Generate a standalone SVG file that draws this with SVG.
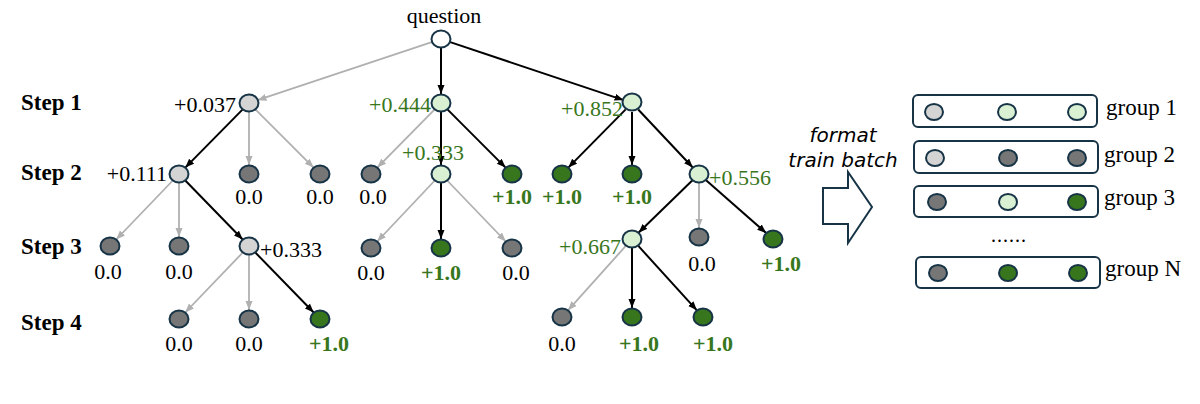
<svg xmlns="http://www.w3.org/2000/svg" width="1200" height="404" viewBox="0 0 1200 404">
<defs>
<marker id="ab" markerUnits="userSpaceOnUse" markerWidth="10" markerHeight="8" refX="9" refY="3.5" orient="auto"><path d="M0,0 L9,3.5 L0,7 z" fill="#000"/></marker>
<marker id="ag" markerUnits="userSpaceOnUse" markerWidth="10" markerHeight="8" refX="9" refY="3.5" orient="auto"><path d="M0,0 L9,3.5 L0,7 z" fill="#b0b0b0"/></marker>
</defs>
<style>
.n{stroke:#173447;stroke-width:2}
.w{fill:#ffffff}.lg{fill:#d4d4d4}.lgr{fill:#d9f0d3}.dg{fill:#767676}.gr{fill:#38761d}
.eb{stroke:#000;stroke-width:2;fill:none;marker-end:url(#ab)}
.eg{stroke:#b0b0b0;stroke-width:1.8;fill:none;marker-end:url(#ag)}
text{font-family:"Liberation Serif","Times New Roman",serif;fill:#000}
.st{font-size:23px;font-weight:bold}
.v{font-size:22px}
.vg{font-size:22px;fill:#38761d}
.p{font-size:22px;font-weight:bold;fill:#38761d}
.gl{font-size:23px}
.fm{font-family:"DejaVu Sans",sans-serif;font-style:italic;font-size:20px}
.box{fill:#fff;stroke:#173447;stroke-width:2}
</style>
<rect width="1200" height="404" fill="#fff"/>
<g id="connectors">
<line class="eg" x1="432.5" y1="41.8" x2="257.5" y2="100.2"/>
<line class="eb" x1="441" y1="48" x2="441" y2="94"/>
<line class="eb" x1="449.5" y1="41.9" x2="623.5" y2="100.1"/>
<line class="eb" x1="242.7" y1="109.4" x2="185.3" y2="167.6"/>
<line class="eg" x1="249" y1="112" x2="249" y2="165"/>
<line class="eg" x1="255.4" y1="109.4" x2="313.6" y2="167.6"/>
<line class="eg" x1="434.7" y1="109.4" x2="377.3" y2="167.6"/>
<line class="eb" x1="441" y1="112" x2="441" y2="165"/>
<line class="eb" x1="447.4" y1="109.4" x2="505.6" y2="167.6"/>
<line class="eb" x1="625.7" y1="109.4" x2="568.3" y2="167.6"/>
<line class="eb" x1="632" y1="112" x2="632" y2="165"/>
<line class="eb" x1="638.2" y1="109.5" x2="692.8" y2="167.5"/>
<line class="eg" x1="172.8" y1="180.5" x2="116.2" y2="239.5"/>
<line class="eg" x1="179" y1="183" x2="179" y2="237"/>
<line class="eb" x1="185.3" y1="180.5" x2="242.7" y2="239.5"/>
<line class="eg" x1="434.8" y1="180.5" x2="377.2" y2="241.5"/>
<line class="eb" x1="441" y1="183" x2="441" y2="239"/>
<line class="eg" x1="447.2" y1="180.5" x2="505.8" y2="241.5"/>
<line class="eb" x1="692.5" y1="180.3" x2="638.5" y2="232.7"/>
<line class="eg" x1="699" y1="183" x2="699" y2="228"/>
<line class="eb" x1="705.8" y1="179.9" x2="766.2" y2="233.1"/>
<line class="eg" x1="242.8" y1="252.5" x2="185.2" y2="312.5"/>
<line class="eg" x1="249" y1="255" x2="249" y2="310"/>
<line class="eb" x1="255.3" y1="252.5" x2="313.7" y2="312.5"/>
<line class="eg" x1="626" y1="245.7" x2="568" y2="310.3"/>
<line class="eb" x1="632" y1="248" x2="632" y2="308"/>
<line class="eb" x1="638.1" y1="245.7" x2="696.9" y2="310.3"/>
</g>
<g id="labels">
<text class="st" x="21" y="110">Step 1</text>
<text class="st" x="21" y="180">Step 2</text>
<text class="st" x="21" y="254">Step 3</text>
<text class="st" x="21" y="330">Step 4</text>
</g>
<g id="q"><ellipse class="n w" cx="441" cy="39" rx="9.5" ry="8.5"/><text x="444" y="23" text-anchor="middle" font-size="22">question</text></g>
<g id="s1a"><ellipse class="n lg" cx="249" cy="103" rx="9.5" ry="8.5"/><text class="v" x="236" y="112" text-anchor="end">+0.037</text></g>
<g id="s1b"><ellipse class="n lgr" cx="441" cy="103" rx="9.5" ry="8.5"/><text class="vg" x="431" y="112" text-anchor="end">+0.444</text></g>
<g id="s1c"><ellipse class="n lgr" cx="632" cy="102" rx="9.5" ry="8.5"/><text class="vg" x="623" y="116" text-anchor="end">+0.852</text></g>
<g id="s2a"><ellipse class="n lg" cx="179" cy="174" rx="9.5" ry="8.5"/><text class="v" x="167" y="181" text-anchor="end">+0.111</text></g>
<g id="s2b"><ellipse class="n dg" cx="249" cy="174" rx="9.5" ry="8.5"/><text class="v" x="249" y="204" text-anchor="middle">0.0</text></g>
<g id="s2c"><ellipse class="n dg" cx="320" cy="174" rx="9.5" ry="8.5"/><text class="v" x="320" y="204" text-anchor="middle">0.0</text></g>
<g id="s2d"><ellipse class="n dg" cx="371" cy="174" rx="9.5" ry="8.5"/><text class="v" x="373" y="204" text-anchor="middle">0.0</text></g>
<g id="s2e"><ellipse class="n lgr" cx="441" cy="174" rx="9.5" ry="8.5"/><text class="vg" x="402" y="160">+0.333</text></g>
<g id="s2f"><ellipse class="n gr" cx="512" cy="174" rx="9.5" ry="8.5"/><text class="p" x="512" y="204" text-anchor="middle">+1.0</text></g>
<g id="s2g"><ellipse class="n gr" cx="562" cy="174" rx="9.5" ry="8.5"/><text class="p" x="562" y="204" text-anchor="middle">+1.0</text></g>
<g id="s2h"><ellipse class="n gr" cx="632" cy="174" rx="9.5" ry="8.5"/><text class="p" x="632" y="204" text-anchor="middle">+1.0</text></g>
<g id="s2i"><ellipse class="n lgr" cx="699" cy="174" rx="9.5" ry="8.5"/><text class="vg" x="709" y="185">+0.556</text></g>
<g id="s3a"><ellipse class="n dg" cx="110" cy="246" rx="9.5" ry="8.5"/><text class="v" x="108" y="279" text-anchor="middle">0.0</text></g>
<g id="s3b"><ellipse class="n dg" cx="179" cy="246" rx="9.5" ry="8.5" stroke="#111"/><text class="v" x="179" y="279" text-anchor="middle">0.0</text></g>
<g id="s3c"><ellipse class="n lg" cx="249" cy="246" rx="9.5" ry="8.5"/><text class="v" x="260" y="257">+0.333</text></g>
<g id="s3d"><ellipse class="n dg" cx="371" cy="248" rx="9.5" ry="8.5"/><text class="v" x="371" y="280" text-anchor="middle">0.0</text></g>
<g id="s3e"><ellipse class="n gr" cx="441" cy="248" rx="9.5" ry="8.5"/><text class="p" x="441" y="280" text-anchor="middle">+1.0</text></g>
<g id="s3f"><ellipse class="n dg" cx="512" cy="248" rx="9.5" ry="8.5"/><text class="v" x="516" y="280" text-anchor="middle">0.0</text></g>
<g id="s3g"><ellipse class="n lgr" cx="632" cy="239" rx="9.5" ry="8.5"/><text class="vg" x="621" y="254" text-anchor="end">+0.667</text></g>
<g id="s3h"><ellipse class="n dg" cx="699" cy="237" rx="9.5" ry="8.5"/><text class="v" x="702" y="271" text-anchor="middle">0.0</text></g>
<g id="s3i"><ellipse class="n gr" cx="773" cy="239" rx="9.5" ry="8.5"/><text class="p" x="781" y="271" text-anchor="middle">+1.0</text></g>
<g id="s4a"><ellipse class="n dg" cx="179" cy="319" rx="9.5" ry="8.5"/><text class="v" x="179" y="351" text-anchor="middle">0.0</text></g>
<g id="s4b"><ellipse class="n dg" cx="249" cy="319" rx="9.5" ry="8.5"/><text class="v" x="249" y="351" text-anchor="middle">0.0</text></g>
<g id="s4c"><ellipse class="n gr" cx="320" cy="319" rx="9.5" ry="8.5"/><text class="p" x="329" y="351" text-anchor="middle">+1.0</text></g>
<g id="s4d"><ellipse class="n dg" cx="562" cy="317" rx="9.5" ry="8.5"/><text class="v" x="562" y="351" text-anchor="middle">0.0</text></g>
<g id="s4e"><ellipse class="n gr" cx="632" cy="317" rx="9.5" ry="8.5"/><text class="p" x="639" y="351" text-anchor="middle">+1.0</text></g>
<g id="s4f"><ellipse class="n gr" cx="703" cy="317" rx="9.5" ry="8.5"/><text class="p" x="713" y="351" text-anchor="middle">+1.0</text></g>
<g id="format">
<text class="fm" x="843" y="142" text-anchor="middle">format</text>
<text class="fm" x="843" y="167" text-anchor="middle">train batch</text>
<polygon points="823,188 848,188 848,172 872,207 848,243 848,224 823,224" fill="#fff" stroke="#173447" stroke-width="2"/>
</g>
<g id="group1">
<rect class="box" x="913" y="95" width="184" height="32" rx="5"/>
<ellipse class="n lg" cx="934" cy="112" rx="9" ry="8"/><ellipse class="n lgr" cx="1007" cy="112" rx="9" ry="8"/><ellipse class="n lgr" cx="1077" cy="112" rx="9" ry="8"/>
<text class="gl" x="1106" y="115">group 1</text>
</g>
<g id="group2">
<rect class="box" x="914" y="141" width="184" height="32" rx="5"/>
<ellipse class="n lg" cx="935" cy="158" rx="9" ry="8"/><ellipse class="n dg" cx="1008" cy="158" rx="9" ry="8"/><ellipse class="n dg" cx="1077" cy="158" rx="9" ry="8"/>
<text class="gl" x="1104" y="162">group 2</text>
</g>
<g id="group3">
<rect class="box" x="914" y="186" width="184" height="31" rx="5"/>
<ellipse class="n dg" cx="937" cy="202" rx="9" ry="8"/><ellipse class="n lgr" cx="1008" cy="202" rx="9" ry="8"/><ellipse class="n gr" cx="1077" cy="202" rx="9" ry="8"/>
<text class="gl" x="1104" y="205">group 3</text>
</g>
<text x="1009" y="242" text-anchor="middle" font-size="20" letter-spacing="1">......</text>
<g id="groupN">
<rect class="box" x="916" y="257" width="184" height="31" rx="5"/>
<ellipse class="n dg" cx="938" cy="273" rx="9" ry="8"/><ellipse class="n gr" cx="1008" cy="273" rx="9" ry="8"/><ellipse class="n gr" cx="1078" cy="273" rx="9" ry="8"/>
<text class="gl" x="1105" y="276">group N</text>
</g>
</svg>
